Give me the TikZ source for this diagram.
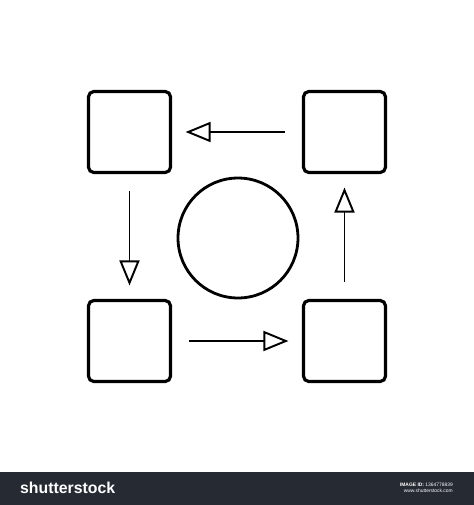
\documentclass[tikz,border=0pt]{standalone}
\usepackage{fontspec}
\setmainfont{Liberation Sans}
\usetikzlibrary{arrows.meta}
\definecolor{barbg}{HTML}{262A33}
\tikzset{
  box/.style={draw, line width=1.8pt, rounded corners=3pt, minimum width=1.64cm, minimum height=1.62cm, inner sep=0pt},
  flow/.style={line width=1.1pt, -{Triangle[open, length=0.5cm, width=0.4cm, line width=1.1pt]}, shorten <=0.34cm, shorten >=0.27cm}
}
\begin{document}
\begin{tikzpicture}[x=0.02cm, y=-0.02cm]
        \useasboundingbox (0,0) rectangle (474,505);
        \fill[white] (0,0) rectangle (474,472);
        \fill[barbg] (0,472) rectangle (474,505);

        \node[box] (tl) at (129.5,132) {};
        \node[box] (tr) at (344.5,132) {};
        \node[box] (bl) at (129.5,341) {};
        \node[box] (br) at (344.5,341) {};

        \node[draw, circle, line width=1.6pt, minimum size=2.4cm, inner sep=0pt] (hub) at (238,238) {};

        % the cycle, clockwise from the top right
        \draw[flow] (tr) -- (tl);
        \draw[flow] (tl) -- (bl);
        \draw[flow] (bl) -- (br);
        \draw[flow] (br) -- (tr);

        \node[anchor=west, text=white, font=\bfseries\fontsize{9}{9}\selectfont] (brand) at (14,487.5) {shutterstock};
        \node[anchor=east, text=white, font=\fontsize{2.8}{3.6}\selectfont, align=right] (imgid) at (459,488) {\textbf{IMAGE ID:} 1364778839\\ www.shutterstock.com};
\end{tikzpicture}
\end{document}
